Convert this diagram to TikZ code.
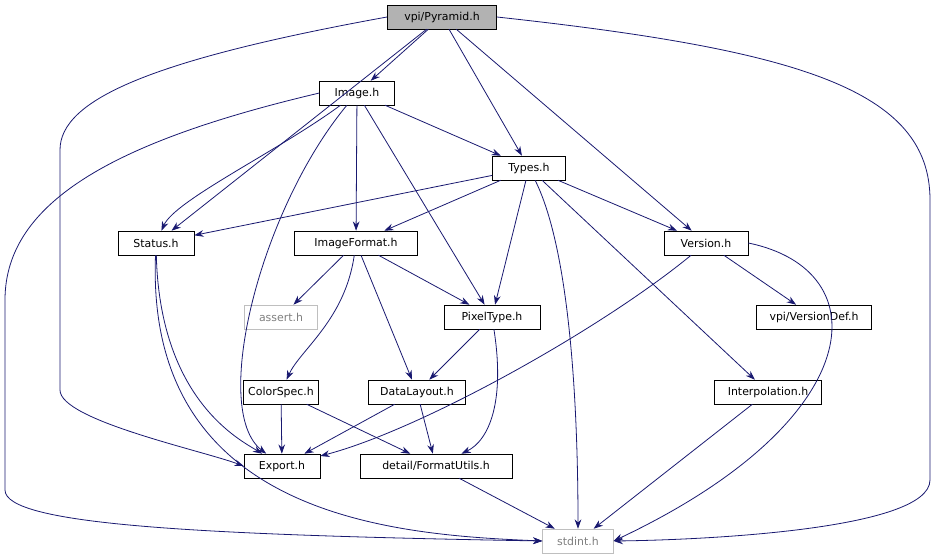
\documentclass[tikz,border=0pt]{standalone}
\usepackage{fontspec}
\setmainfont{DejaVu Sans}
\usetikzlibrary{arrows.meta}
\definecolor{eb}{HTML}{191970}
\begin{document}
\begin{tikzpicture}[x=0.75pt,y=-0.75pt,font=\fontsize{8.2}{9}\selectfont,
 n/.style={draw=black,fill=white,minimum height=18pt,inner xsep=3pt,inner ysep=0pt},
 g/.style={n,draw=gray!50,text=gray},
 e/.style={draw=eb,-{Stealth[length=7pt,width=5pt]},line width=0.6pt}]
\useasboundingbox (0,0) rectangle (939,560);
\node[n,fill=gray!60,minimum width=82pt] (P) at (442,17) {vpi/Pyramid.h};
\node[n,minimum width=56pt] (I) at (357,93) {Image.h};
\node[n,minimum width=55pt] (T) at (529,168) {Types.h};
\node[n,minimum width=57pt] (S) at (156,243) {Status.h};
\node[n,minimum width=92pt] (IF) at (356,243) {ImageFormat.h};
\node[n,minimum width=63pt] (V) at (706,243) {Version.h};
\node[g,minimum width=55pt] (A) at (281,317) {assert.h};
\node[n,minimum width=72pt] (PT) at (492,317) {PixelType.h};
\node[n,minimum width=86pt] (VD) at (814,317) {vpi/VersionDef.h};
\node[n,minimum width=56pt] (CS) at (281,392) {ColorSpec.h};
\node[n,minimum width=73pt] (DL) at (417,392) {DataLayout.h};
\node[n,minimum width=80pt] (IN) at (768,392) {Interpolation.h};
\node[n,minimum width=57pt] (E) at (282,466) {Export.h};
\node[n,minimum width=114pt] (FU) at (436,466) {detail/FormatUtils.h};
\node[g,minimum width=53pt] (SI) at (578,541) {stdint.h};
\draw[e] (P) -- (I);
\draw[e] (P) -- (T);
\draw[e] (P) -- (V);
\draw[e] (P) -- (S);
\draw[e] (P.west) .. controls (150,60) and (60,100) .. (60,150) -- (60,390) .. controls (60,420) and (200,450) .. (E.west);
\draw[e] (P.east) .. controls (800,50) and (930,90) .. (930,200) -- (930,480) .. controls (930,530) and (700,540) .. (SI.east);
\draw[e] (I.west) .. controls (120,140) and (5,200) .. (5,300) -- (5,490) .. controls (5,525) and (200,535) .. (SI.west);
\draw[e] (I) -- (T);
\draw[e] (I) -- (IF);
\draw[e] (I) -- (PT);
\draw[e] (I) .. controls (280,150) and (175,200) .. (S);
\draw[e] (I) .. controls (260,210) and (210,410) .. (E);
\draw[e] (T) -- (S);
\draw[e] (T) -- (IF);
\draw[e] (T) -- (PT);
\draw[e] (T) -- (V);
\draw[e] (T) -- (IN);
\draw[e] (T) .. controls (575,260) and (578,450) .. (SI);
\draw[e] (S) .. controls (160,400) and (240,440) .. (E);
\draw[e] (S) .. controls (145,520) and (400,535) .. (SI.west);
\draw[e] (IF) -- (A);
\draw[e] (IF) -- (PT);
\draw[e] (IF) .. controls (345,320) and (300,350) .. (CS);
\draw[e] (IF) -- (DL);
\draw[e] (V) -- (VD);
\draw[e] (V) .. controls (600,330) and (420,430) .. (E);
\draw[e] (V.east) .. controls (880,270) and (870,420) .. (SI.east);
\draw[e] (PT) -- (DL);
\draw[e] (PT) .. controls (505,400) and (490,440) .. (FU);
\draw[e] (CS) -- (E);
\draw[e] (CS) -- (FU);
\draw[e] (DL) -- (E);
\draw[e] (DL) -- (FU);
\draw[e] (IN) -- (SI);
\draw[e] (FU) -- (SI);
\end{tikzpicture}
\end{document}
